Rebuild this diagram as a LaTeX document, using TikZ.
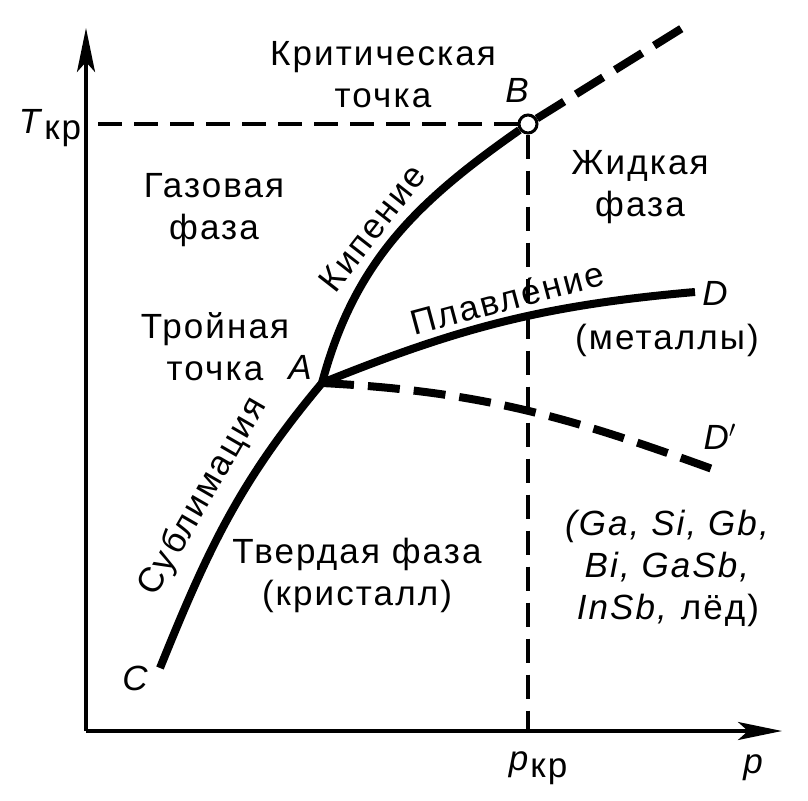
\documentclass[tikz,border=0pt]{standalone}
\usepackage{fontspec}
\setmainfont{Liberation Sans}
\newfontfamily\platefont[LetterSpace=6]{Liberation Sans}
\usetikzlibrary{arrows.meta}

\begin{document}
\begin{tikzpicture}[x=0.5pt, y=0.5pt, >={Stealth[length=22pt, width=9pt, inset=5pt]},
  phase/.style={align=center, font=\fontsize{17.5}{21}\platefont},
  letter/.style={font=\fontsize{17.5}{21}\platefont\itshape},
  boundary/.style={line width=4pt},
  metastable/.style={line width=4pt, dash pattern=on 16pt off 7pt},
  guide/.style={line width=1.8pt, dash pattern=on 12pt off 6pt},
  axis/.style={line width=1.6pt, ->}]

  \useasboundingbox (0,0) rectangle (808,800);

  % axes
  \coordinate (O) at (86,69);
  \coordinate (T-end) at (86,772);
  \coordinate (p-end) at (782,69);
  \draw [axis] (O) -- (T-end);
  \draw [axis] (O) -- (p-end);

  % special points
  \coordinate (A) at (322,417);
  \coordinate (C) at (160,132);
  \coordinate (D) at (695,508);
  \coordinate (Dp) at (715,330);
  \coordinate (E) at (692,778);
  \node [draw, circle, fill=white, line width=1.5pt, inner sep=0pt, minimum size=9pt] (B) at (528,676) {};

  % critical values
  \draw [guide] (B.west) -- (B.west -| O);
  \draw [guide] (B.south) -- (B.south |- O);

  % phase boundaries
  \draw [boundary] (C) to [out=68, in=230] (A);
  \draw [boundary] (A) to [out=75, in=215] (B);
  \draw [boundary] (A) to [out=22, in=185] (D);
  \draw [metastable] (A) to [out=-3, in=160] (Dp);
  \draw [metastable] (B) -- (E);

  % curve names
  \node [phase, rotate=52] (boil) at (372,572) {Кипение};
  \node [phase, rotate=15] (melt) at (507,502) {Плавле́ние};
  \node [phase, rotate=60] (subl) at (203,303) {Сублимация};

  % regions
  \node [phase] (crit) at (383,725) {Критическая\\точка};
  \node [phase] (gas) at (214,590) {Газовая\\фаза};
  \node [phase] (triple) at (215,453) {Тройная\\точка};
  \node [phase] (liquid) at (640,613) {Жидкая\\фаза};
  \node [phase] (metals) at (667,460) {(металлы)};
  \node [phase] (solid) at (357,225) {Твердая фаза\\(кристалл)};
  \node [phase] (anomal) at (668,232) {\textit{(Ga, Si, Gb,}\\\textit{Bi, GaSb,}\\\textit{InSb,} лёд)};

  % point letters
  \foreach \n/\t/\x/\y in {lB/B/517/710, lA/A/300/433, lC/C/135/122, lD/D/715/507, lDp/D$'$/720/363}
  \node [letter] (\n) at (\x,\y) {\t};

  % axis labels
  \node [phase] (Tkr) at (50,672) {\textit{T}\raisebox{-0.35ex}{кр}};
  \node [phase] (pkr) at (538,32) {\textit{p}\raisebox{-0.35ex}{кр}};
  \node [letter] (p) at (753,32) {p};

\end{tikzpicture}
\end{document}
